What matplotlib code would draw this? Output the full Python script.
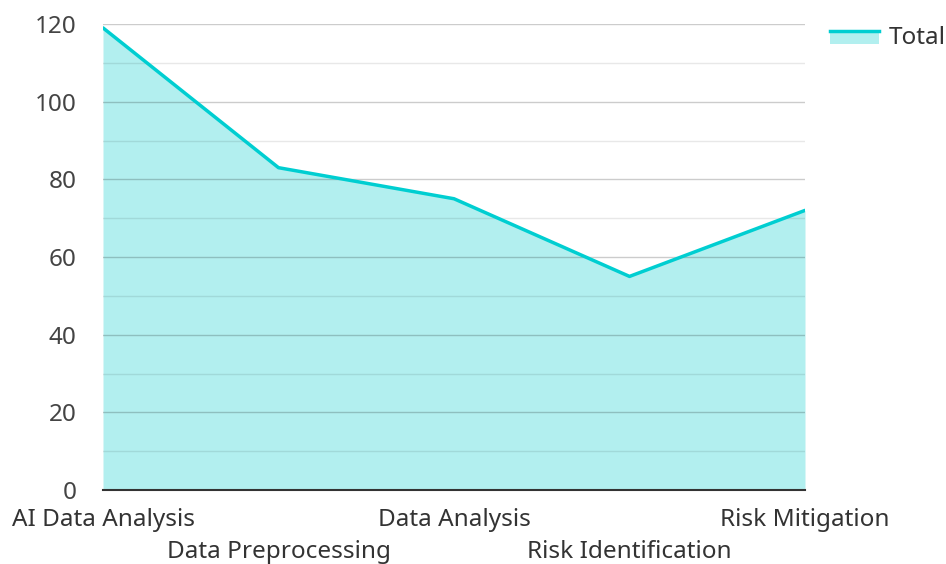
import matplotlib
matplotlib.use("Agg")
import matplotlib.pyplot as plt
from matplotlib.patches import Rectangle
from matplotlib.lines import Line2D
from matplotlib.legend_handler import HandlerBase

categories = ["AI Data Analysis", "Data Preprocessing", "Data Analysis", "Risk Identification", "Risk Mitigation"]
values = [119, 83, 75, 55, 72]
series_name = "Total"

plt.rcParams['font.family'] = ['Noto Sans', 'DejaVu Sans']
line_color = "#00CED1"
fill_color = "#B2EFEF"
FS = 17.5

fig = plt.figure(figsize=(9.46, 5.64), dpi=100)
ax = fig.add_axes([103/946, 1-490/564, (805-103)/946, (490-24)/564])

x = list(range(len(categories)))
ax.fill_between(x, values, 0, color=fill_color, zorder=1, linewidth=0)
ax.plot(x, values, color=line_color, linewidth=2.5, zorder=3, solid_capstyle='round')

ax.set_xlim(0, len(categories)-1)
ax.set_ylim(0, 120)
ax.set_yticks(range(0, 121, 20))
ax.set_yticks(range(10, 120, 20), minor=True)
ax.grid(True, which='major', axis='y', color='#000000', alpha=0.2, linewidth=1, zorder=2)
ax.grid(True, which='minor', axis='y', color='#000000', alpha=0.09, linewidth=1, zorder=2)
ax.set_axisbelow(False)
for s in ['top', 'right', 'left']:
    ax.spines[s].set_visible(False)
ax.spines['bottom'].set_color('#333333')
ax.spines['bottom'].set_linewidth(1.5)
ax.spines['bottom'].set_zorder(4)

ax.tick_params(axis='y', which='both', length=0, labelsize=FS, labelcolor='#444444', pad=19)
ax.tick_params(axis='x', length=0)
ax.set_xticks(x)
ax.set_xticklabels([""] * len(categories))
for i, c in enumerate(categories):
    off = 0 if i % 2 == 0 else 32
    ax.annotate(c, xy=(i, 0), xycoords=('data', 'axes fraction'),
                xytext=(0, -30 - off), textcoords='offset pixels',
                ha='center', va='center', fontsize=FS, color='#333333',
                annotation_clip=False)

class AreaHandler(HandlerBase):
    def create_artists(self, legend, orig_handle, xdescent, ydescent, width, height, fontsize, trans):
        r = Rectangle((-xdescent, -ydescent), width, height * 0.75, facecolor=fill_color,
                      edgecolor='none', transform=trans)
        l = Line2D([-xdescent, -xdescent + width], [-ydescent + height*0.75, -ydescent + height*0.75],
                   color=line_color, linewidth=2.5, transform=trans)
        return [r, l]

h = Rectangle((0, 0), 1, 1)
leg = fig.legend([h], [series_name], handler_map={Rectangle: AreaHandler()},
                 loc='upper left', bbox_to_anchor=(830/946, 1-26/564), frameon=False,
                 fontsize=FS, handlelength=2.0, handleheight=0.7, handletextpad=0.4,
                 borderaxespad=0, borderpad=0)
for t in leg.get_texts():
    t.set_color('#333333')

fig.savefig("out.png", dpi=100)
